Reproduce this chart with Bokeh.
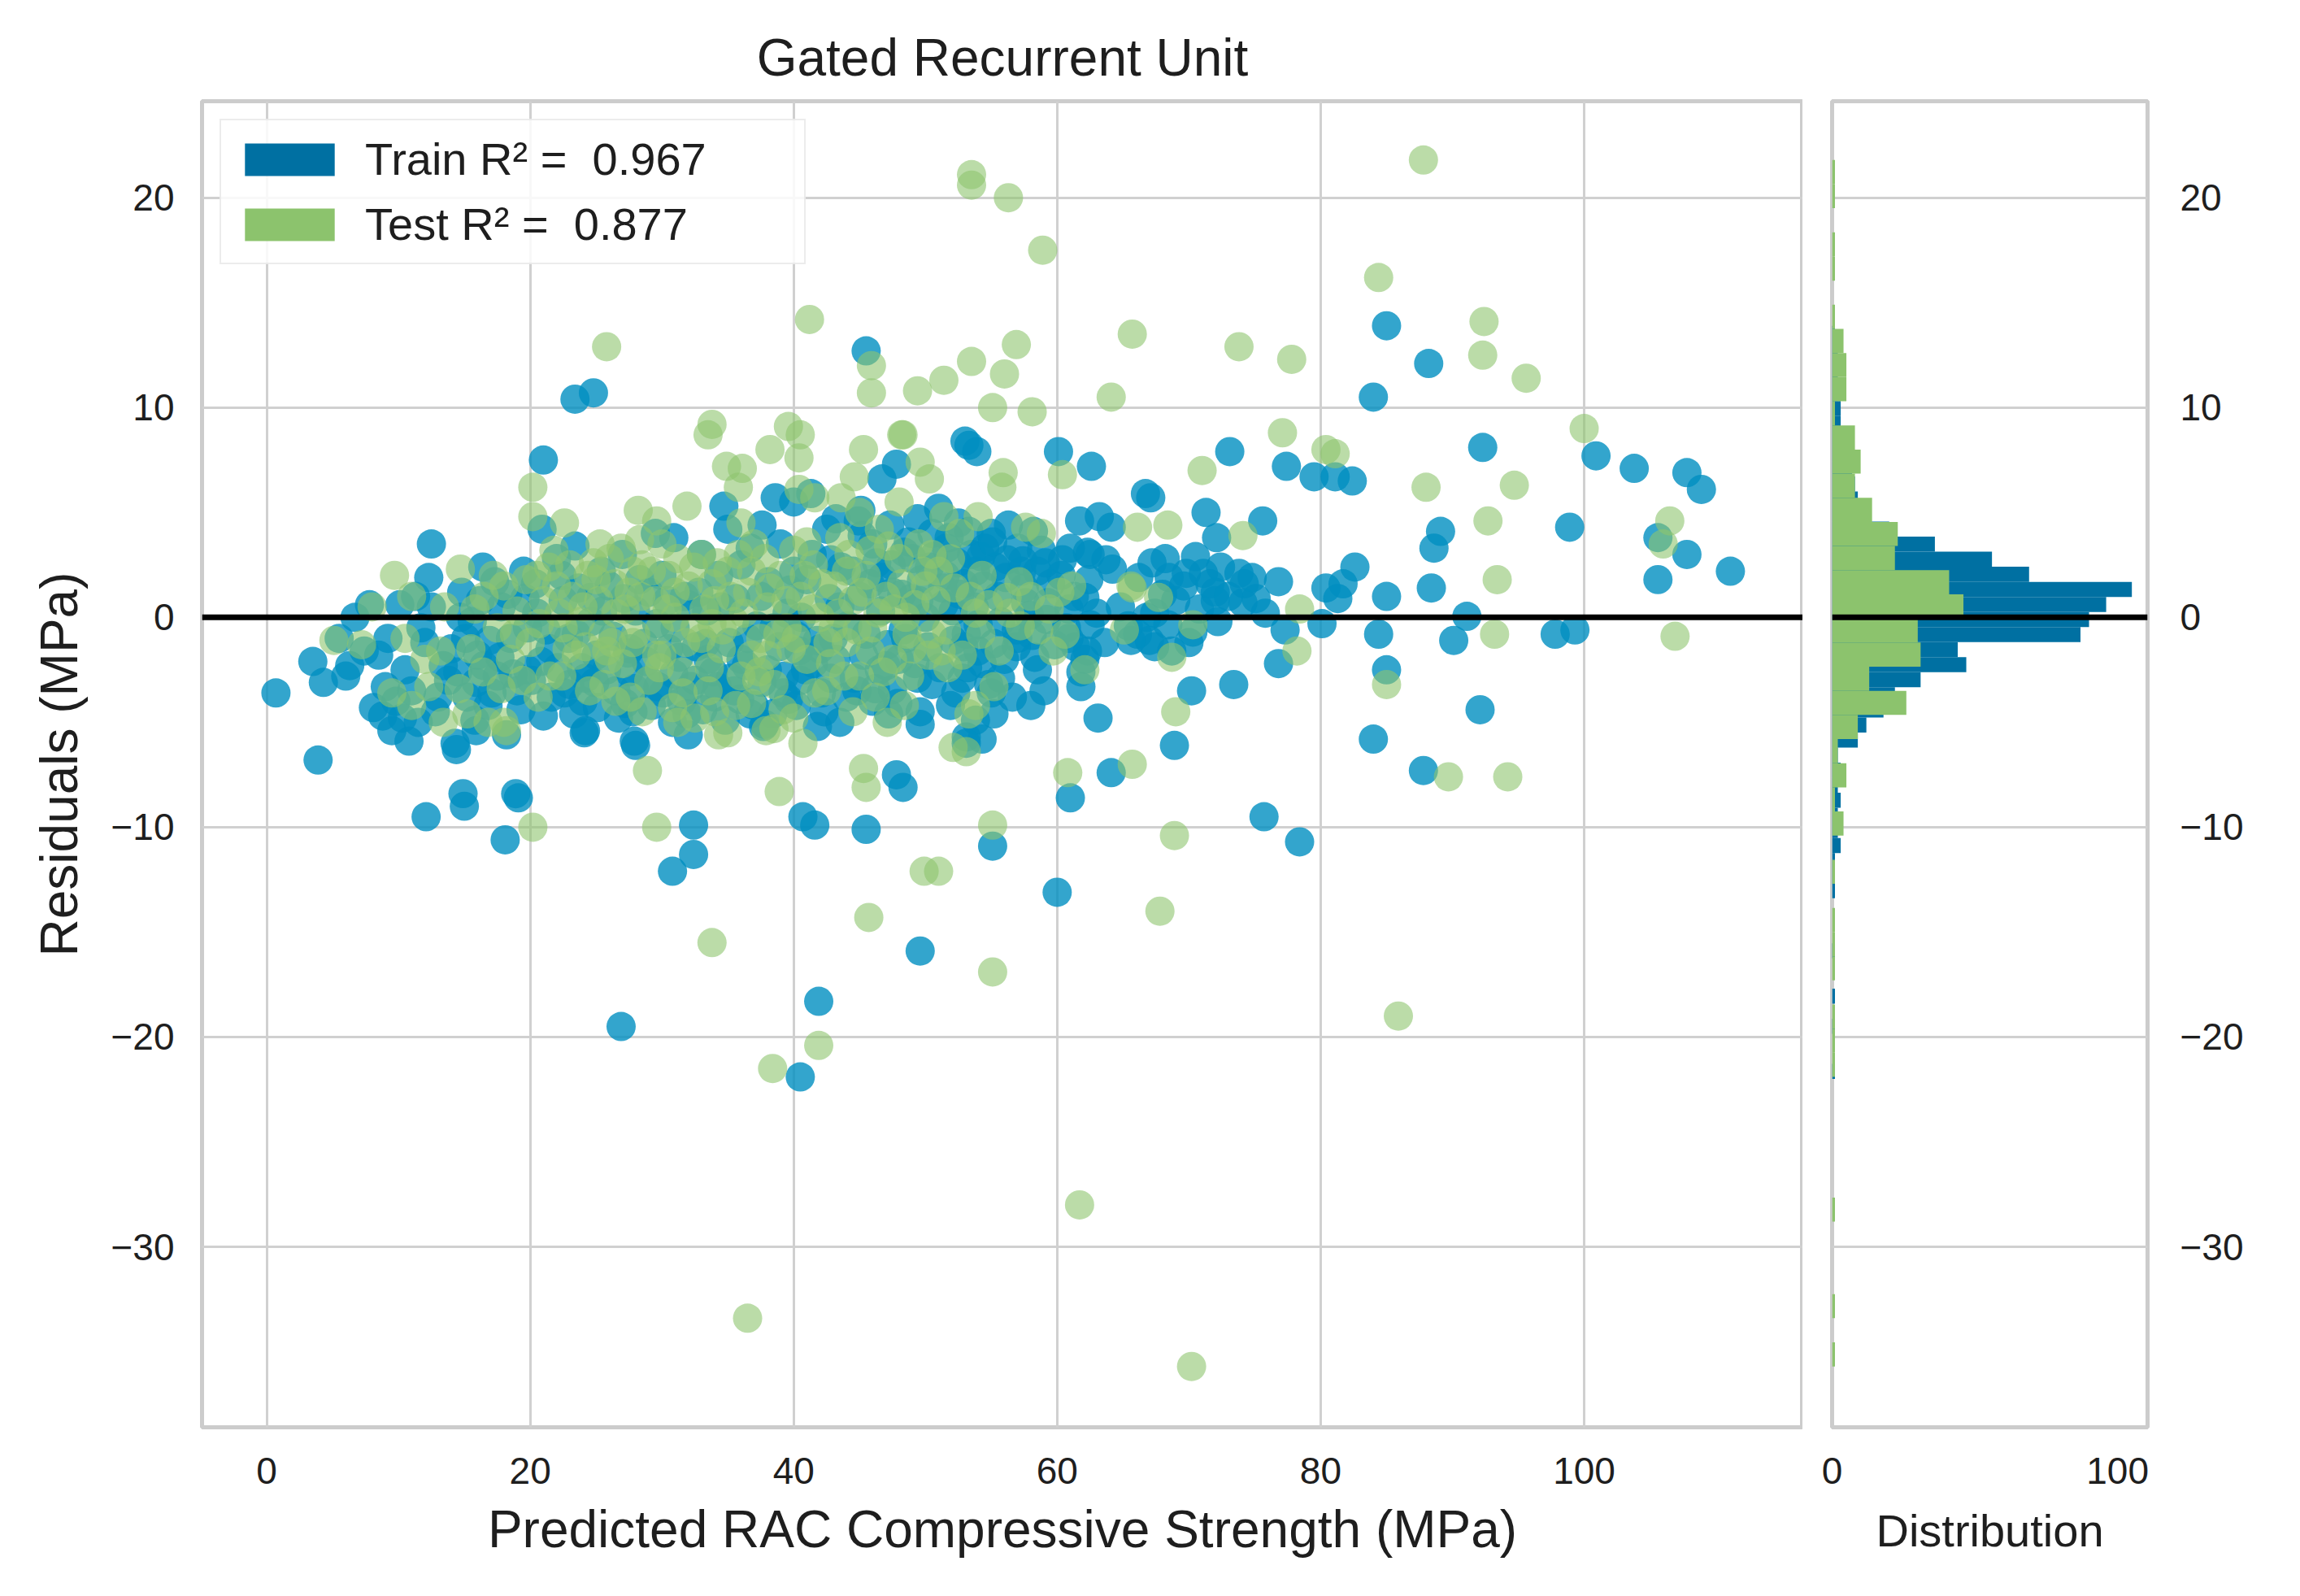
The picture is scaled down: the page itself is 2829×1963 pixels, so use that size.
import numpy as np
from bokeh.plotting import figure
from bokeh.layouts import row
from bokeh.models import (Range1d, Span, Legend, LegendItem, FixedTicker,
                          CustomJSTickFormatter)
from bokeh.embed import file_html
from bokeh.resources import INLINE

# ---------------- texts / ticks ----------------
title_text = "Gated Recurrent Unit"
x_label = "Predicted RAC Compressive Strength (MPa)"
y_label = "Residuals (MPa)"
hist_label = "Distribution"
train_label = "Train R\u00b2 =\u00a0\u00a00.967"
test_label = "Test R\u00b2 =\u00a0\u00a00.877"
x_ticks = [0, 20, 40, 60, 80, 100]
y_ticks = [-30, -20, -10, 0, 10, 20]
hist_ticks = [0, 100]

# ---------------- residual scatter data (predicted, residual) ----------------
train_outer = [
    (0.7, -3.6), (3.9, -6.8), (3.5, -2.1), (4.3, -3.1), (6.3, -2.3), (6.7, 0.0), (7.8, 0.6),
    (8.5, -1.8), (7.4, -1.6), (8.1, -4.3), (8.8, -4.7), (9.5, -5.4), (10.8, -5.9), (10.1, 0.6),
    (11.7, -0.5), (12.5, 3.5), (12.3, 1.9), (13.4, -2.3), (14.3, -6.0), (15.9, -5.4), (16.4, 2.4),
    (17.3, 1.7), (14.7, 0.0), (15.0, -9.0), (12.1, -9.5), (19.1, -8.6), (18.1, -10.6), (21.0, 7.5),
    (23.4, 10.4), (24.8, 10.7), (20.9, 4.2), (19.5, 2.2), (21.0, -4.7), (24.2, -5.4), (28.0, -6.1),
    (32.0, -5.6), (27.8, -4.5), (30.8, -12.1), (32.4, -11.3), (32.4, -9.9), (37.7, -5.2),
    (40.7, -9.5), (41.6, -9.9), (45.5, -10.1), (47.8, -7.5), (48.3, -8.1), (43.5, -5.0),
    (49.6, -15.9), (45.5, 12.7), (38.6, 5.7), (40.0, 5.5), (34.7, 5.3), (47.8, 7.3), (46.7, 6.6),
    (49.6, -4.5), (40.5, -21.9), (41.9, -18.3), (26.9, -19.5),
]
train_right = [
    (85.0, 13.9), (88.2, 12.1), (84.0, 10.5), (92.3, 8.1), (100.9, 7.7), (103.8, 7.1), (107.8, 6.9),
    (108.9, 6.1), (98.9, 4.3), (105.6, 3.8), (107.8, 3.0), (111.1, 2.2), (105.6, 1.8), (89.1, 4.1),
    (88.6, 3.3), (88.4, 1.4), (91.1, 0.05), (90.1, -1.1), (97.8, -0.8), (99.3, -0.6), (85.0, 1.0),
    (84.4, -0.8), (85.0, -2.5), (92.1, -4.4), (84.0, -5.8), (87.8, -7.3), (73.1, 7.9), (77.4, 7.2),
    (79.5, 6.7), (81.1, 6.7), (82.4, 6.5), (60.1, 7.9), (62.6, 7.2), (53.3, 8.2), (53.9, 7.9),
    (66.7, 5.9), (67.1, 5.7), (71.3, 5.0), (75.6, 4.6), (72.1, 3.8), (76.8, 1.7), (80.4, 1.4),
    (82.6, 2.4), (81.7, 1.6), (81.3, 0.9), (80.1, -0.3), (77.3, -0.6), (76.8, -2.2), (73.4, -3.2),
    (70.2, -3.5), (63.1, -4.8), (58.0, -4.2), (68.9, -6.1), (64.1, -7.4), (61.0, -8.6), (75.7, -9.5),
    (78.4, -10.7), (60.0, -13.1), (55.1, -10.9),
    (68.5, 1.9), (69.8, 2.1), (71.1, 2.1), (72.4, 2.4), (73.8, 2.1), (74.2, 1.6), (72.0, 0.8),
    (70.8, 0.4), (69.0, 0.8), (67.4, 0.2), (66.1, -0.8), (67.4, -1.4), (68.7, -1.6), (70.0, -1.2),
    (75.1, 0.9), (69.6, 1.5), (72.0, 1.2), (74.1, 0.7), (68.0, 1.1), (66.8, 0.0), (68.4, -0.35),
    (70.3, -0.7), (72.2, -0.2), (67.0, -1.1), (65.6, -1.1),
    (61.7, 4.6), (63.2, 4.8), (64.1, 4.3), (61.0, 3.3), (62.3, 3.1),
    (55.2, -4.6), (54.3, -5.8), (53.1, -5.7), (55.0, -3.6), (53.2, -2.4), (52.9, -1.4), (62.1, -2.0),
    (61.8, -3.3), (62.3, -1.6), (53.0, 8.4),
    (58.5, 2.2), (59.5, 1.6), (62.1, 0.95), (60.9, 0.4), (59.2, -0.1), (62.5, -0.35), (60.9, -1.0),
    (61.4, -1.4), (60.4, 2.75), (63.7, 2.75), (62.5, 3.0),
    (54.5, 3.3), (56.2, 2.75), (53.8, 2.2), (57.3, 2.2), (52.9, 1.6), (55.5, 1.0), (57.6, 0.7),
    (52.1, 0.3), (54.0, -0.35), (56.9, -0.6), (52.1, -1.1), (55.2, -1.25), (58.1, -0.86),
    (56.9, -1.4), (54.3, -2.2), (52.8, -2.9), (55.7, -2.9), (51.9, -4.2), (53.8, -4.9), (53.1, -6.0),
]
train_core = [
    (41.3, 5.9), (37.6, 4.4), (30.9, 3.8), (23.4, 3.4), (43.2, 4.7), (45.1, 5.1), (50.5, 4.0),
    (42.8, 2.75), (48.2, 1.1), (40.2, -0.87), (24.6, 0.95), (32.8, 1.2), (28.6, -1.25), (33.3, -1.25),
    (40.4, -1.6), (15.1, -1.0), (16.5, -2.3), (19.8, -2.5), (23.9, -2.4), (27.6, -1.5), (30.9, -2.7),
    (35.2, -2.9), (39.2, -3.6), (42.8, -2.9), (47.0, -2.3), (49.4, -2.9), (15.8, -4.9), (24.1, -5.5),
    (27.9, -5.9), (37.8, -5.1), (41.8, -5.2), (47.5, -3.45), (49.6, -5.1), (14.4, -6.3), (18.9, -8.4),
    (14.9, -8.4),
    (21.5, -1.5), (22.5, 0.8), (23.0, -3.2), (25.0, -1.8), (26.0, 1.5), (26.5, -3.5), (28.0, 0.3),
    (29.0, -3.0), (30.0, 2.0), (31.0, -0.5), (31.5, -4.0), (33.0, 3.0), (33.5, -2.0), (34.5, 0.5),
    (35.5, -3.5), (36.0, 2.5), (36.5, -1.0), (37.5, 1.0), (38.0, -2.5), (39.0, 3.5), (39.5, 0.2),
    (40.5, -3.0), (41.0, 1.8), (42.0, -1.5), (42.5, 4.2), (43.5, 0.5), (44.0, -3.8), (44.5, 2.2),
    (45.5, -0.8), (46.0, 3.5), (46.5, -2.5), (47.5, 1.2), (48.5, -1.0), (49.0, 2.8), (50.0, 0.0),
    (50.5, -3.2), (51.0, 5.2), (22.0, 2.8), (24.0, -4.0), (27.0, 3.0), (29.5, 4.0), (32.5, -3.0),
    (35.0, 4.2), (37.0, -4.2), (9.0, -3.3), (10.3, -4.8), (11.5, -5.0), (12.8, -4.5), (13.8, -3.0),
    (15.2, -3.8), (16.8, -4.2), (17.5, -2.8), (18.5, -1.0), (19.0, -3.5), (16.0, -1.8), (14.0, -1.5),
    (12.5, 0.5), (17.8, 0.5), (19.8, -0.5), (11.3, 1.0), (18.2, -5.6), (9.2, -1.0), (10.5, -2.5),
    (11.0, -3.5), (12.0, -1.2), (13.0, -3.8), (9.8, -4.0), (5.5, -1.0), (6.0, -2.8),
    (20.5, 0.2), (23.5, -0.8), (25.5, 0.3), (27.5, -2.6), (29.0, 1.2), (30.5, -1.5), (32.0, 0.6),
    (34.0, -3.8), (36.0, -2.0), (38.5, -0.5), (40.0, 2.2), (41.5, -2.2), (43.0, -1.0), (45.0, 1.0),
    (46.0, -4.0), (48.0, -2.0), (49.5, 0.8), (51.5, 2.0), (52.5, 4.5), (55.0, 4.0), (57.0, 3.3),
    (56.0, -2.0), (58.5, -2.5), (59.0, -3.5),
]
train_dense = [
    (14.5, -2.6), (14.8, 1.2), (15.6, -0.2), (15.9, -3.1), (16.2, 0.8), (16.9, -1.1), (17.1, -3.6),
    (17.7, -1.9), (18.3, 1.1), (18.7, -2.7), (19.3, -4.4), (19.6, 0.9), (20.1, -3.0), (20.4, 1.6),
    (20.8, -2.1), (21.2, -0.6), (21.6, -3.8), (22.1, -2.4), (22.4, 2.0), (22.9, -1.0), (23.3, -4.6),
    (23.7, 1.4), (24.2, -2.9), (24.6, -0.2), (25.1, -4.3), (25.4, 2.2), (25.8, -2.5), (26.3, -0.9),
    (26.7, -4.8), (27.1, 0.9), (27.4, -1.7), (27.9, -3.4), (28.3, 1.8), (28.8, -2.1), (29.2, -4.2),
    (29.6, -0.3), (30.1, -3.6), (30.4, 0.8), (30.8, -5.0), (31.3, -1.9), (31.7, 1.0), (32.2, -3.3),
    (32.6, -1.4), (33.1, -4.4), (33.4, 0.3), (33.9, -2.6), (34.3, 2.0), (34.8, -4.9), (35.1, -1.2),
    (35.6, 0.9), (35.9, -3.9), (36.4, -2.3), (36.7, 3.3), (37.2, -0.4), (37.6, -3.1), (38.1, 1.7),
    (38.4, -4.6), (38.9, -1.4), (39.3, -2.8), (39.7, 1.3), (40.2, -4.2), (40.6, 0.0), (40.9, -2.5),
    (41.4, 3.0), (41.8, -1.1), (42.3, -4.5), (42.7, 0.9), (43.2, -2.0), (43.6, 2.4), (44.1, -0.4),
    (44.6, -2.9), (44.9, 4.6), (45.3, -1.8), (45.8, 1.6), (46.2, -3.4), (46.6, 0.3), (47.1, -1.3),
    (47.4, 2.5), (47.9, -4.1), (48.3, -0.6), (48.7, 3.6), (49.2, -2.2), (49.7, 1.8), (50.2, -1.4),
    (50.6, 2.9), (51.1, -2.4), (51.4, 0.6), (51.8, 3.8), (52.3, -3.6), (52.6, 1.1), (53.1, -0.8),
    (53.5, 3.0), (54.0, -1.6), (54.4, 1.5), (54.8, -3.2), (55.3, 2.4), (55.7, -0.2), (56.1, 1.9),
    (56.6, -3.8), (57.0, -1.0), (57.4, 2.7), (57.9, 0.1), (58.3, -1.9), (58.8, 3.2), (59.3, 0.7),
    (59.8, -1.3), (60.3, 2.0), (60.7, -0.5), (61.3, 1.0), (61.8, -2.6), (62.4, 1.8), (63.0, 0.2),
    (63.6, -1.2), (64.2, 2.3), (64.8, 0.5), (65.4, -0.4), (66.2, 1.9), (67.2, 2.6), (68.2, 2.8),
    (70.5, 2.9), (71.6, 1.6), (73.0, 1.0), (74.8, 1.9), (75.8, 0.2),
]
train_extra = [
    (45.2, 3.9), (46.3, 2.6), (47.3, 4.4), (48.4, 3.1), (49.4, 4.7), (50.3, 2.4), (51.6, 3.3),
    (52.4, 2.6), (53.3, 4.1), (54.2, 2.9), (55.1, 3.6), (56.3, 4.4), (57.5, 1.4), (58.2, 4.1),
    (59.1, 2.6), (46.7, 1.9), (48.9, 0.9), (51.3, 1.4), (53.7, 0.5), (22.6, -3.6), (24.9, -3.1),
    (27.2, -4.1), (29.7, -3.3), (31.9, -4.6), (34.2, -3.3), (36.7, -4.6), (39.6, -3.9),
    (42.1, -3.6), (44.8, -3.5), (47.2, -4.6),
]
test_outer = [
    (53.5, 21.1), (53.5, 20.6), (56.3, 20.0), (87.8, 21.8), (58.9, 17.5), (84.4, 16.2), (41.2, 14.2),
    (25.8, 12.9), (92.4, 14.1), (73.8, 12.9), (77.8, 12.3), (92.3, 12.5), (95.6, 11.4), (65.7, 13.5),
    (56.9, 13.0), (53.5, 12.2), (51.4, 11.3), (56.0, 11.6), (49.4, 10.8), (45.9, 10.7), (45.9, 12.0),
    (55.1, 10.0), (58.1, 9.8), (64.1, 10.5), (48.3, 8.7), (55.9, 6.9), (55.8, 6.2), (60.4, 6.8),
    (71.0, 7.0), (77.1, 8.8), (80.4, 8.0), (81.1, 7.8), (88.0, 6.2), (94.7, 6.3), (92.7, 4.6),
    (93.4, 1.8), (100.0, 9.0), (106.5, 4.6), (106.0, 3.5), (106.9, -0.9), (93.2, -0.8), (66.1, 4.3),
    (68.4, 4.4), (74.1, 3.9), (65.7, 1.4), (78.2, -1.6), (85.0, -3.2), (69.0, -4.5), (65.7, -7.0),
    (60.8, -7.4), (89.7, -7.6), (94.2, -7.6), (68.9, -10.4), (55.1, -9.9), (51.0, -12.1),
    (67.8, -14.0), (55.1, -16.9),
    (33.8, 9.2), (33.5, 8.7), (39.6, 9.1), (40.5, 8.7), (38.2, 8.0), (40.4, 7.6), (34.9, 7.2),
    (36.1, 7.1), (35.8, 6.2), (48.2, 8.7), (45.3, 8.0), (44.6, 6.7), (43.6, 5.7), (20.2, 6.2),
    (20.2, 4.8), (22.6, 4.5), (9.7, 2.0), (14.7, 2.3), (28.2, 5.1), (29.6, 4.6), (31.9, 5.3),
    (25.3, 3.5), (5.1, -1.1), (9.5, -3.6), (11.0, -4.2), (13.4, -5.0), (18.0, -5.0), (18.2, -5.4),
    (20.2, -10.0), (28.9, -7.3), (29.6, -10.0), (33.8, -15.5), (38.9, -8.3), (45.7, -14.3),
    (45.3, -7.2), (45.5, -8.1), (47.1, -5.0), (40.7, -6.0), (34.3, -5.6), (31.2, -5.0), (30.8, -4.3),
    (34.0, -4.5), (36.8, -4.1), (37.9, -5.4), (49.9, -12.1),
    (36.5, -33.4), (70.2, -35.7), (61.7, -28.0), (85.9, -19.0), (38.4, -21.5), (41.9, -20.4),
    (78.4, 0.4), (53.1, -6.4), (55.2, -3.3), (53.8, -4.2), (59.7, -1.6), (62.1, -2.5), (68.7, -1.9),
    (70.3, -0.35), (65.1, -0.6), (65.6, 1.5), (67.7, 0.95), (61.1, 1.5), (60.2, 1.2), (57.1, 1.7),
    (58.8, 4.0), (57.6, 4.3), (54.0, 4.8), (51.4, 4.8), (52.6, 4.0), (51.9, 2.8), (54.3, 2.0),
    (56.2, 0.95), (53.8, 0.2), (51.7, -2.4), (53.3, -4.6), (52.1, -6.2),
    (40.4, 6.1), (41.6, 5.7), (26.9, 3.3), (28.3, 3.7), (49.6, 7.4), (50.3, 6.6),
]
test_core = [
    (16.5, 1.0), (17.5, -0.5), (18.0, 1.5), (18.5, -2.0), (19.0, 0.3), (20.0, -1.2), (20.5, 2.0),
    (21.0, 0.8), (21.5, -2.8), (22.0, 1.5), (22.5, -0.5), (23.0, 2.5), (23.5, -1.8), (24.0, 0.5),
    (24.5, -3.5), (25.0, 1.8), (25.5, -0.8), (26.0, 2.8), (26.5, 0.2), (27.0, -2.2), (27.5, 1.2),
    (28.0, -0.8), (28.5, 2.5), (29.0, -3.0), (29.5, 0.8), (30.0, -1.8), (30.5, 2.0), (31.0, 0.0),
    (31.5, -2.6), (32.0, 1.5), (32.5, -0.5), (33.0, 3.0), (33.5, -3.5), (34.0, 0.8), (34.5, -1.5),
    (35.0, 2.2), (35.5, -0.2), (36.0, -2.8), (36.5, 1.2), (37.0, 3.5), (37.5, -1.0), (38.0, 0.5),
    (38.5, -3.2), (39.0, 2.0), (39.5, -0.5), (40.0, 3.2), (40.5, 1.0), (41.0, -2.0), (41.5, 2.5),
    (42.0, 0.0), (42.5, -3.5), (43.0, 1.5), (43.5, 3.8), (44.0, -1.2), (44.5, 0.8), (45.0, -2.8),
    (45.5, 2.0), (46.0, -0.5), (46.5, 4.2), (47.0, 1.0), (47.5, -2.0), (48.0, 2.8), (48.5, 0.0),
    (49.0, -1.5), (49.5, 3.5), (50.0, 1.5), (50.5, -0.8), (51.0, 2.2), (26.0, -2.0), (33.0, -1.0),
    (38.0, -1.8), (43.0, -0.5), (30.0, 3.5), (45.0, 5.0), (48.0, 5.5), (36.0, 4.5), (26.5, -4.0),
    (28.5, -4.5), (32.5, -4.8), (35.0, -5.5), (38.5, -5.3), (40.0, -4.8), (44.5, -4.5), (16.8, -5.0),
    (7.2, -1.3), (8.0, 0.5), (10.5, -1.0), (11.0, 1.0), (12.0, -2.0), (13.5, 0.5), (15.5, -1.5),
    (12.3, -3.3), (15.2, -4.6),
    (21.8, 3.2), (24.8, 2.6), (27.8, 2.2), (31.2, 2.8), (34.2, 2.6), (37.8, 2.8), (41.0, 3.6),
    (44.2, 3.0), (47.2, 3.4), (50.5, 3.0), (22.8, -1.5), (26.2, -1.2), (29.8, -0.6), (33.8, -0.3),
    (36.8, -1.8), (39.8, -1.5), (42.8, -2.2), (45.8, -1.6), (48.8, -2.8), (51.2, -1.6),
]
test_dense = [
    (15.8, 0.4), (17.2, 2.0), (18.8, -0.8), (19.7, 1.8), (20.7, -0.3), (21.4, 2.4), (22.2, 0.2),
    (23.2, 1.0), (23.8, -0.2), (24.4, 2.0), (25.2, 0.8), (25.8, -1.6), (26.4, 1.6), (27.2, 0.4),
    (27.8, -1.2), (28.4, 1.0), (29.2, 2.2), (29.8, -2.4), (30.4, 0.4), (31.0, 1.2), (31.8, -1.2),
    (32.4, 2.4), (33.2, 0.4), (33.8, 1.6), (34.6, -0.6), (35.2, 1.0), (35.8, 3.0), (36.2, 0.2),
    (36.8, 2.2), (37.4, -2.6), (38.2, 1.4), (38.8, -0.8), (39.4, 0.8), (40.2, -1.0), (40.8, 2.0),
    (41.4, 0.4), (42.2, 1.6), (42.6, -1.2), (43.4, 0.2), (44.0, 2.2), (44.8, -0.6), (45.2, 1.2),
    (45.8, 3.2), (46.4, 0.2), (46.8, -2.6), (47.6, 0.4), (48.2, 1.6), (48.6, -0.8), (49.2, 0.6),
    (49.8, 2.2), (50.2, -1.8), (50.8, 0.8), (51.6, -0.6), (52.2, 1.4), (52.8, -1.8), (53.4, 1.0),
    (54.2, -0.8), (54.8, 0.6), (55.6, -1.6), (56.4, 0.2), (57.2, -0.4), (58.0, 1.0), (58.6, -0.6),
    (59.4, 0.4), (60.6, -0.8),
    (20.6, -3.8), (22.4, -2.8), (24.2, -1.4), (25.6, -3.2), (27.6, -3.8), (29.6, -1.8), (31.6, -3.6),
    (33.6, -2.4), (35.6, -4.2), (37.2, -3.0), (39.2, -4.4), (41.6, -3.6), (43.8, -2.8), (46.2, -3.8),
    (48.4, -4.2), (19.4, -3.0), (17.8, -3.4), (16.4, -2.6), (14.6, -3.4), (13.2, -1.6),
]

# ---------------- residual histograms (counts per bin) ----------------
train_hist_start = -22.0
train_hist_width = 0.718
train_hist_counts = [1, 0, 0, 1, 0, 1, 0, 0, 1, 0, 0, 0, 1, 1, 1, 3, 2, 2, 3, 2,
                     3, 2, 9, 12, 18, 22, 31, 47, 44, 87, 90, 96, 105, 69, 56, 36, 20, 13, 9, 8,
                     7, 6, 4, 3, 3, 2, 2, 1, 2, 1]
test_hist_start = -35.7
test_hist_width = 1.15
test_hist_counts = [1, 0, 1, 0, 0, 0, 1, 0, 0, 0, 0, 0, 1, 1, 1, 0, 1, 1, 1, 0,
                    1, 0, 4, 1, 5, 2, 9, 26, 13, 31, 30, 46, 41, 22, 23, 14, 8, 10, 8, 1,
                    5, 5, 4, 1, 0, 1, 1, 0, 1, 1]

# ---------------- styling ----------------
FONT = "Liberation Sans"
TEXT_COLOR = "#1e1e1e"
GRID_COLOR = "#d0d0d0"
TRAIN_PT = "#008fc0"
TEST_PT = "#8dc46e"
TRAIN_BAR = "#0070a2"
TEST_BAR = "#8cc36d"

train_pts = train_outer + train_right + train_core + train_dense + train_extra
test_pts = test_outer + test_core + test_dense
train_x = [p[0] for p in train_pts]
train_y = [p[1] for p in train_pts]
test_x = [p[0] for p in test_pts]
test_y = [p[1] for p in test_pts]

y_range = Range1d(-38.6, 24.6)
minus_fmt = CustomJSTickFormatter(code="return tick < 0 ? '\\u2212' + Math.abs(tick) : '' + tick;")

p = figure(frame_width=1969, frame_height=1631, x_range=Range1d(-4.91, 116.6), y_range=y_range,
           output_backend="svg", toolbar_location=None,
           min_border_left=248, min_border_right=0, min_border_top=124, min_border_bottom=190,
           background_fill_color="white", border_fill_color="white")
p.title.text = title_text
p.title.align = "center"
p.title.text_font = FONT
p.title.text_font_size = "64px"
p.title.text_font_style = "normal"
p.title.text_color = TEXT_COLOR
p.title.standoff = 36
p.outline_line_color = "#cccccc"
p.outline_line_width = 5

p.xaxis.ticker = FixedTicker(ticks=x_ticks)
p.yaxis.ticker = FixedTicker(ticks=y_ticks)
p.yaxis.formatter = minus_fmt
p.xaxis.axis_label = x_label
p.yaxis.axis_label = y_label
for ax in (p.xaxis, p.yaxis):
    ax.axis_line_color = None
    ax.major_tick_line_color = None
    ax.minor_tick_line_color = None
    ax.major_tick_in = 0
    ax.major_tick_out = 0
    ax.minor_tick_in = 0
    ax.minor_tick_out = 0
    ax.major_label_text_font = FONT
    ax.major_label_text_font_size = "46px"
    ax.major_label_text_color = TEXT_COLOR
    ax.axis_label_text_font = FONT
    ax.axis_label_text_font_size = "64px"
    ax.axis_label_text_font_style = "normal"
    ax.axis_label_text_color = TEXT_COLOR
p.xaxis.major_label_standoff = 37
p.xaxis.axis_label_standoff = 17
p.yaxis.major_label_standoff = 34
p.yaxis.axis_label_standoff = 24
p.grid.grid_line_color = GRID_COLOR
p.grid.grid_line_width = 3
p.xgrid.ticker = FixedTicker(ticks=x_ticks)
p.ygrid.ticker = FixedTicker(ticks=y_ticks)

p.scatter(train_x, train_y, size=36, fill_color=TRAIN_PT, fill_alpha=0.8, line_color=None)
p.scatter(test_x, test_y, size=36, fill_color=TEST_PT, fill_alpha=0.6, line_color=None)
p.add_layout(Span(location=0, dimension="width", line_color="black", line_width=7))

# legend swatches: renderers with no drawable (NaN) data, only used for the legend
leg_train = p.quad(left=[np.nan], right=[np.nan], top=[np.nan], bottom=[np.nan],
                   fill_color=TRAIN_BAR, line_color=None)
leg_test = p.quad(left=[np.nan], right=[np.nan], top=[np.nan], bottom=[np.nan],
                  fill_color=TEST_BAR, line_color=None)
legend = Legend(items=[LegendItem(label=train_label, renderers=[leg_train]),
                       LegendItem(label=test_label, renderers=[leg_test])],
                location="top_left", margin=22, padding=15, spacing=15,
                glyph_width=138, glyph_height=50, label_standoff=24,
                label_height=60, label_width=525,
                label_text_font=FONT, label_text_font_size="56px", label_text_color=TEXT_COLOR,
                background_fill_color="white", background_fill_alpha=0.85,
                border_line_color="#dadada", border_line_width=2)
p.add_layout(legend)

# ---------------- histogram panel ----------------
tr_bottom = [train_hist_start + train_hist_width * i for i in range(len(train_hist_counts))]
tr_top = [b + train_hist_width for b in tr_bottom]
te_bottom = [test_hist_start + test_hist_width * i for i in range(len(test_hist_counts))]
te_top = [b + test_hist_width for b in te_bottom]

h = figure(frame_width=388, frame_height=1631, x_range=Range1d(0, 110.5), y_range=y_range,
           output_backend="svg", toolbar_location=None, y_axis_location="right",
           min_border_left=36, min_border_right=150, min_border_top=124, min_border_bottom=190,
           background_fill_color="white", border_fill_color="white")
h.outline_line_color = "#cccccc"
h.outline_line_width = 5
h.quad(left=0, right=train_hist_counts, bottom=tr_bottom, top=tr_top,
       fill_color=TRAIN_BAR, line_color=None)
h.quad(left=0, right=test_hist_counts, bottom=te_bottom, top=te_top,
       fill_color=TEST_BAR, line_color=None)
h.add_layout(Span(location=0, dimension="width", line_color="black", line_width=7))
h.xaxis.ticker = FixedTicker(ticks=hist_ticks)
h.yaxis.ticker = FixedTicker(ticks=y_ticks)
h.yaxis.formatter = minus_fmt
h.xaxis.axis_label = hist_label
for ax in (h.xaxis, h.yaxis):
    ax.axis_line_color = None
    ax.major_tick_line_color = None
    ax.minor_tick_line_color = None
    ax.major_tick_in = 0
    ax.major_tick_out = 0
    ax.minor_tick_in = 0
    ax.minor_tick_out = 0
    ax.major_label_text_font = FONT
    ax.major_label_text_font_size = "46px"
    ax.major_label_text_color = TEXT_COLOR
    ax.axis_label_text_font = FONT
    ax.axis_label_text_font_size = "56px"
    ax.axis_label_text_font_style = "normal"
    ax.axis_label_text_color = TEXT_COLOR
h.xaxis.major_label_standoff = 37
h.xaxis.axis_label_standoff = 23
h.yaxis.major_label_standoff = 40
h.xgrid.visible = False
h.ygrid.grid_line_color = GRID_COLOR
h.ygrid.grid_line_width = 3
h.ygrid.ticker = FixedTicker(ticks=y_ticks)

layout = row(p, h)
open("out.html", "w").write(file_html(layout, INLINE))
